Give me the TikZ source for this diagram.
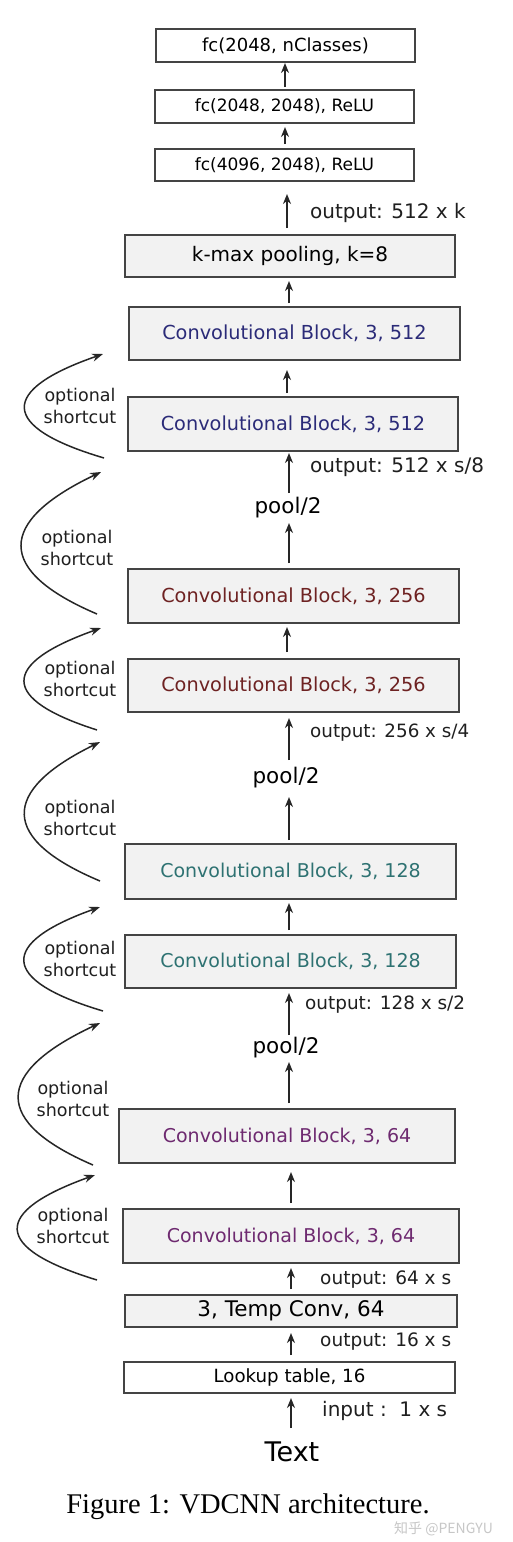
\documentclass[tikz,border=0pt]{standalone}
\usepackage{fontspec}
\setmainfont{DejaVu Sans}
\newfontfamily\capfont{Liberation Serif}
\newfontfamily\cjkfont{Noto Sans CJK SC}
\usetikzlibrary{arrows.meta}
\definecolor{bordergray}{HTML}{444444}
\definecolor{boxfill}{HTML}{F2F2F2}
\definecolor{cnavy}{HTML}{2B2B78}
\definecolor{cmaroon}{HTML}{6E2222}
\definecolor{cteal}{HTML}{2E7272}
\definecolor{cpurple}{HTML}{6E2A70}
\definecolor{linegray}{HTML}{262626}
\newcommand\fsz[1]{\fontsize{#1}{#1}\selectfont}
\begin{document}
\begin{tikzpicture}[x=1pt,y=-1pt,
  blk/.style={draw=bordergray,line width=1.7pt,fill=boxfill,inner sep=0pt,outer sep=0pt},
  wblk/.style={blk,fill=white},
  arr/.style={-{Stealth[length=10pt,width=8pt]},line width=1.8pt,draw=linegray},
  sc/.style={-{Stealth[length=11pt,width=8pt]},line width=1.5pt,draw=linegray},
  lbl/.style={anchor=west,inner sep=0pt,text=black!88},
  opt/.style={align=center,inner sep=0pt,text=black!88,font=\fontsize{17.5}{22}\selectfont}]
\fill[white] (0,0) rectangle (512,1542);
\useasboundingbox (0,0) rectangle (512,1542);
\coordinate (fx) at (285,0);
\coordinate (kx) at (287,0);
\coordinate (ax) at (289,0);
\coordinate (bx) at (291,0);
% boxes
\node[wblk,minimum width=259pt,minimum height=33pt,font=\fsz{18}] (fcA) at (285.5,45.5) {fc(2048, nClasses)};
\node[wblk,minimum width=259pt,minimum height=33pt,font=\fsz{17}] (fcB) at (284.5,106.5) {fc(2048, 2048), ReLU};
\node[wblk,minimum width=259pt,minimum height=32pt,font=\fsz{17}] (fcC) at (284.5,165) {fc(4096, 2048), ReLU};
\node[blk,minimum width=330pt,minimum height=42pt,font=\fsz{20}] (kmax) at (290,256) {k-max pooling, k=8};
\node[blk,minimum width=331pt,minimum height=53pt,font=\fsz{19.3},text=cnavy] (c512a) at (294.5,333.5) {Convolutional Block, 3, 512};
\node[blk,minimum width=330pt,minimum height=54pt,font=\fsz{19.3},text=cnavy] (c512b) at (293,424) {Convolutional Block, 3, 512};
\node[blk,minimum width=331pt,minimum height=54pt,font=\fsz{19.3},text=cmaroon] (c256a) at (293.5,596) {Convolutional Block, 3, 256};
\node[blk,minimum width=331pt,minimum height=53pt,font=\fsz{19.3},text=cmaroon] (c256b) at (293.5,685.5) {Convolutional Block, 3, 256};
\node[blk,minimum width=331pt,minimum height=55pt,font=\fsz{19},text=cteal] (c128a) at (290.5,871.5) {Convolutional Block, 3, 128};
\node[blk,minimum width=331pt,minimum height=53pt,font=\fsz{19},text=cteal] (c128b) at (290.5,961.5) {Convolutional Block, 3, 128};
\node[blk,minimum width=336pt,minimum height=54pt,font=\fsz{19},text=cpurple] (c64a) at (287,1136) {Convolutional Block, 3, 64};
\node[blk,minimum width=336pt,minimum height=54pt,font=\fsz{19},text=cpurple] (c64b) at (291,1236) {Convolutional Block, 3, 64};
\node[blk,minimum width=332pt,minimum height=32pt,font=\fsz{21.5}] (temp) at (291,1311) {3, Temp Conv, 64};
\node[wblk,minimum width=331pt,minimum height=31pt,font=\fsz{18.2}] (lookup) at (289.5,1377.5) {Lookup table, 16};
\node[font=\fsz{27},inner sep=0pt] (txt) at (292,1452) {Text};
% pool labels
\node[font=\fsz{21.5},inner sep=0pt] (p1) at (288,508) {pool/2};
\node[font=\fsz{21.5},inner sep=0pt] (p2) at (286,778) {pool/2};
\node[font=\fsz{21.5},inner sep=0pt] (p3) at (286,1048) {pool/2};
% output labels
\node[lbl,font=\fsz{20}] (o1) at (310,213) {output: 512 x k};
\node[lbl,font=\fsz{20}] (o2) at (310,467) {output: 512 x s/8};
\node[lbl,font=\fsz{18.3}] (o3) at (310,733) {output: 256 x s/4};
\node[lbl,font=\fsz{18.4}] (o4) at (305,1005) {output: 128 x s/2};
\node[lbl,font=\fsz{18.5}] (o5) at (320,1280) {output: 64 x s};
\node[lbl,font=\fsz{18.5}] (o6) at (320,1342) {output: 16 x s};
\node[lbl,font=\fsz{20}] (o7) at (322,1411) {input :\ \ 1 x s};
% main arrows
\draw[arr,shorten <=3pt,shorten >=1pt] (fcB.north -| fx) -- (fcA.south -| fx);
\draw[arr,shorten <=5pt,shorten >=4pt] (fcC.north -| fx) -- (fcB.south -| fx);
\draw[arr,shorten <=7pt,shorten >=13pt] (kmax.north -| kx) -- (fcC.south -| kx);
\draw[arr,shorten <=4pt,shorten >=4pt] (c512a.north -| ax) -- (kmax.south -| ax);
\draw[arr,shorten <=4pt,shorten >=10pt] (c512b.north -| kx) -- (c512a.south -| kx);
\draw[arr,shorten <=15pt,shorten >=2pt] (p1.center -| ax) -- (c512b.south -| ax);
\draw[arr,shorten <=6pt,shorten >=15pt] (c256a.north -| ax) -- (p1.center -| ax);
\draw[arr,shorten <=7pt,shorten >=4pt] (c256b.north -| kx) -- (c256a.south -| kx);
\draw[arr,shorten <=18pt,shorten >=6pt] (p2.center -| ax) -- (c256b.south -| ax);
\draw[arr,shorten <=4pt,shorten >=19pt] (c128a.north -| ax) -- (p2.center -| ax);
\draw[arr,shorten <=5pt,shorten >=4pt] (c128b.north -| ax) -- (c128a.south -| ax);
\draw[arr,shorten <=13pt,shorten >=5pt] (p3.center -| ax) -- (c128b.south -| ax);
\draw[arr,shorten <=6pt,shorten >=14pt] (c64a.north -| ax) -- (p3.center -| ax);
\draw[arr,shorten <=6pt,shorten >=9pt] (c64b.north -| bx) -- (c64a.south -| bx);
\draw[arr,shorten <=6pt,shorten >=5pt] (temp.north -| bx) -- (c64b.south -| bx);
\draw[arr,shorten <=7pt,shorten >=6pt] (lookup.north -| bx) -- (temp.south -| bx);
\draw[arr,shorten <=24pt,shorten >=5pt] (txt.center -| bx) -- (lookup.south -| bx);
% shortcut ends
\coordinate (sAt) at (104,458);  \coordinate (sAh) at (103,354);
\coordinate (sBt) at (97,614);   \coordinate (sBh) at (101,472);
\coordinate (sCt) at (97,730);   \coordinate (sCh) at (101,628);
\coordinate (sDt) at (100,881);  \coordinate (sDh) at (100,742);
\coordinate (sEt) at (103,1011); \coordinate (sEh) at (100,907);
\coordinate (sFt) at (93,1165);  \coordinate (sFh) at (100,1023);
\coordinate (sGt) at (97,1280);  \coordinate (sGh) at (95,1175);
\draw[sc] (sAt) .. controls (-1,427) and (-1,390) .. (sAh);
\draw[sc] (sBt) .. controls (-4,571) and (-4,522) .. (sBh);
\draw[sc] (sCt) .. controls (0,699) and (0,664) .. (sCh);
\draw[sc] (sDt) .. controls (0,839) and (0,791) .. (sDh);
\draw[sc] (sEt) .. controls (-1,980) and (-1,943) .. (sEh);
\draw[sc] (sFt) .. controls (-7,1122) and (-7,1073) .. (sFh);
\draw[sc] (sGt) .. controls (-8,1248) and (-8,1212) .. (sGh);
% shortcut labels
\node[opt] (tA) at (80,406) {optional\\shortcut};
\node[opt] (tB) at (77,548) {optional\\shortcut};
\node[opt] (tC) at (80,679) {optional\\shortcut};
\node[opt] (tD) at (80,818) {optional\\shortcut};
\node[opt] (tE) at (80,959) {optional\\shortcut};
\node[opt] (tF) at (73,1099) {optional\\shortcut};
\node[opt] (tG) at (73,1226) {optional\\shortcut};
% caption and mark
\node[font=\capfont\fsz{28.5},inner sep=0pt] (cap) at (248,1507) {Figure 1: VDCNN architecture.};
\node[font=\cjkfont\fsz{14},text=black!22,anchor=west,inner sep=0pt] (wm) at (394,1529) {知乎 @PENGYU};
\end{tikzpicture}
\end{document}
